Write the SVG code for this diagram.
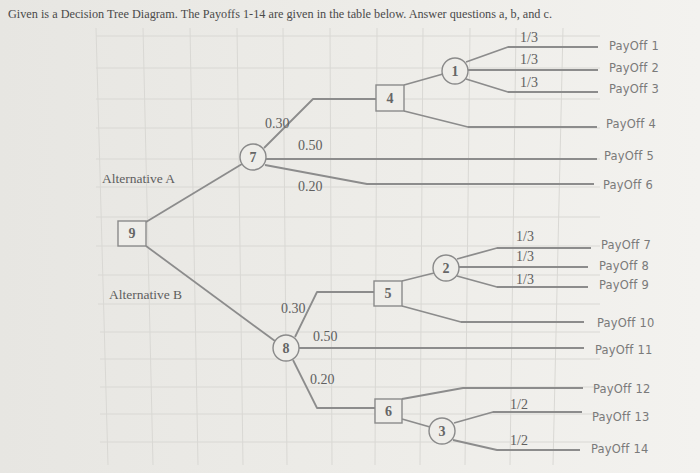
<svg xmlns="http://www.w3.org/2000/svg" width="700" height="473" viewBox="0 0 700 473">
<defs>
<linearGradient id="bg" x1="0" y1="0" x2="1" y2="0">
<stop offset="0" stop-color="#e7e6e2"/>
<stop offset="0.6" stop-color="#eeede9"/>
<stop offset="1" stop-color="#f3f2ef"/>
</linearGradient>
<style>
.grid{stroke:#d9d8d4;stroke-width:1;fill:none}
.c{stroke:#8c8c8c;stroke-width:1.8;fill:none;stroke-linejoin:round}
.n{stroke:#8a8a8a;stroke-width:1.4;fill:#eeede9}
.num{font-family:"Liberation Serif",serif;font-size:14px;font-weight:bold;fill:#666666;text-anchor:middle}
.p{font-family:"Liberation Serif",serif;font-size:14px;fill:#606060}
.alt{font-family:"Liberation Serif",serif;font-size:13.5px;fill:#5e5e5e}
.pay{font-family:"DejaVu Sans",sans-serif;font-size:11.5px;fill:#7a7a7a;letter-spacing:0.2px}
.title{font-family:"Liberation Serif",serif;font-size:13.5px;fill:#4a4a4a}
</style>
</defs>
<rect width="700" height="473" fill="url(#bg)"/>
<g id="grid" class="grid">
<path d="M96,28 L108,465 M143,28 L153,465 M190,28 L198,465 M237,28 L243,465 M283,28 L287,465 M330,28 L332,465 M377,28 L375,465 M423,28 L420,465 M470,28 L465,465 M516,28 L510,465 M563,28 L553,465"/>
<path d="M96,36 H600 M96,68 H600 M96,99 H600 M96,128 H600 M96,159 H600 M96,187 H600 M96,217 H600 M96,246 H600 M98,275 H600 M98,304 H600 M100,332 H600 M100,359 H600 M100,387 H600 M100,414 H600 M100,442 H600"/>
</g>
<text class="title" x="8" y="18" textLength="544" lengthAdjust="spacingAndGlyphs">Given is a Decision Tree Diagram. The Payoffs 1-14 are given in the table below. Answer questions a, b, and c.</text>
<g id="connectors">
<path class="c" d="M146,222 L242,164"/>
<path class="c" d="M146,246 L275,341"/>
<path class="c" d="M264,148 L313,99 L376,99"/>
<path class="c" d="M266,159 L597,159"/>
<path class="c" d="M265,165 L367,184 L594,184"/>
<path class="c" d="M404,85 L443,74"/>
<path class="c" d="M404,111 L468,127 L597,127"/>
<path class="c" d="M466,62 L508,47 L598,47"/>
<path class="c" d="M468,70 L598,70"/>
<path class="c" d="M466,79 L508,92 L598,92"/>
<path class="c" d="M295,337 L317,292 L374,292"/>
<path class="c" d="M299,348 L584,348"/>
<path class="c" d="M293,360 L317,408 L375,408"/>
<path class="c" d="M402,281 L434,273"/>
<path class="c" d="M402,306 L461,322 L584,322"/>
<path class="c" d="M457,259 L497,248 L591,248"/>
<path class="c" d="M459,267 L588,267"/>
<path class="c" d="M457,276 L497,287 L588,287"/>
<path class="c" d="M402,399 L463,388 L583,388"/>
<path class="c" d="M402,419 L430,427"/>
<path class="c" d="M454,423 L493,412 L582,412"/>
<path class="c" d="M453,440 L497,450 L580,450"/>
</g>
<g id="labels">
<text class="alt" x="102" y="183">Alternative A</text>
<text class="alt" x="109" y="299">Alternative B</text>
<text class="p" x="265" y="128">0.30</text>
<text class="p" x="298" y="150">0.50</text>
<text class="p" x="298" y="191">0.20</text>
<text class="p" x="281" y="313">0.30</text>
<text class="p" x="313" y="341">0.50</text>
<text class="p" x="310" y="384">0.20</text>
<text class="p" x="520" y="42">1/3</text>
<text class="p" x="520" y="64">1/3</text>
<text class="p" x="520" y="87">1/3</text>
<text class="p" x="516" y="241">1/3</text>
<text class="p" x="516" y="261">1/3</text>
<text class="p" x="516" y="284">1/3</text>
<text class="p" x="510" y="409">1/2</text>
<text class="p" x="510" y="445">1/2</text>
</g>
<g id="payoffs">
<text class="pay" x="609" y="50">PayOff 1</text>
<text class="pay" x="609" y="72">PayOff 2</text>
<text class="pay" x="609" y="93">PayOff 3</text>
<text class="pay" x="606" y="128">PayOff 4</text>
<text class="pay" x="604" y="160">PayOff 5</text>
<text class="pay" x="603" y="189">PayOff 6</text>
<text class="pay" x="601" y="249">PayOff 7</text>
<text class="pay" x="599" y="270">PayOff 8</text>
<text class="pay" x="599" y="289">PayOff 9</text>
<text class="pay" x="597" y="327">PayOff 10</text>
<text class="pay" x="595" y="354">PayOff 11</text>
<text class="pay" x="593" y="393">PayOff 12</text>
<text class="pay" x="592" y="421">PayOff 13</text>
<text class="pay" x="591" y="453">PayOff 14</text>
</g>
<g id="node9"><rect class="n" x="118" y="221" width="28" height="25"/><text class="num" x="132" y="238">9</text></g>
<g id="node7"><circle class="n" cx="253" cy="157" r="13"/><text class="num" x="253" y="162">7</text></g>
<g id="node8"><circle class="n" cx="286" cy="348" r="13"/><text class="num" x="286" y="353">8</text></g>
<g id="node4"><rect class="n" x="376" y="85" width="28" height="26"/><text class="num" x="390" y="103">4</text></g>
<g id="node5"><rect class="n" x="374" y="281" width="28" height="25"/><text class="num" x="388" y="298">5</text></g>
<g id="node6"><rect class="n" x="375" y="399" width="27" height="24"/><text class="num" x="388.5" y="416">6</text></g>
<g id="node1"><circle class="n" cx="455" cy="71" r="13"/><text class="num" x="455" y="76">1</text></g>
<g id="node2"><circle class="n" cx="446" cy="268" r="13"/><text class="num" x="446" y="273">2</text></g>
<g id="node3"><circle class="n" cx="442" cy="431" r="13"/><text class="num" x="442" y="436">3</text></g>
</svg>
